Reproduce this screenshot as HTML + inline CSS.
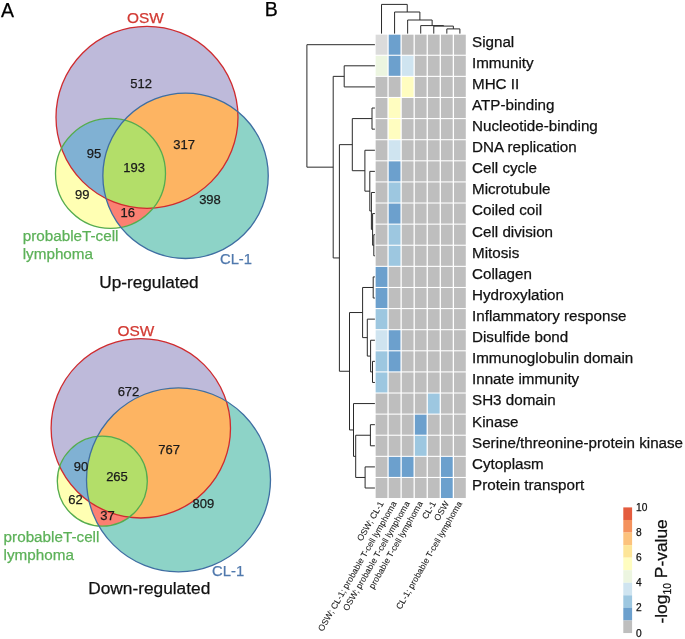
<!DOCTYPE html>
<html><head><meta charset="utf-8"><style>
html,body{margin:0;padding:0;background:#fff;}
svg{display:block;font-family:"Liberation Sans", Arial, sans-serif;}
text{stroke-width:0.25px;}
</style></head><body>
<svg width="685" height="639" viewBox="0 0 685 639">
<rect width="685" height="639" fill="#fff"/>
<text x="1" y="16.6" font-size="19.5" fill="#000" stroke="#000">A</text>
<text x="264.7" y="15.8" font-size="19.5" fill="#000" stroke="#000">B</text>
<clipPath id="uo"><circle cx="147" cy="117.3" r="91"/></clipPath>
<clipPath id="uc"><circle cx="185.55" cy="175.8" r="82.7"/></clipPath>
<circle cx="147" cy="117.3" r="91" fill="#BEBADA"/>
<circle cx="185.55" cy="175.8" r="82.7" fill="#8DD3C7"/>
<circle cx="110.5" cy="173.4" r="55" fill="#FFFFB3"/>
<circle cx="185.55" cy="175.8" r="82.7" fill="#FDB462" clip-path="url(#uo)"/>
<circle cx="110.5" cy="173.4" r="55" fill="#80B1D3" clip-path="url(#uo)"/>
<circle cx="110.5" cy="173.4" r="55" fill="#FB8072" clip-path="url(#uc)"/>
<g clip-path="url(#uo)"><circle cx="110.5" cy="173.4" r="55" fill="#B3DE69" clip-path="url(#uc)"/></g>
<circle cx="147" cy="117.3" r="91" fill="none" stroke="#CF2B2F" stroke-width="1.3"/>
<circle cx="110.5" cy="173.4" r="55" fill="none" stroke="#55AC4F" stroke-width="1.3"/>
<circle cx="185.55" cy="175.8" r="82.7" fill="none" stroke="#3F6EA2" stroke-width="1.3"/>
<text x="145.3" y="23" font-size="15.4" fill="#D23A33" stroke="#D23A33" text-anchor="middle">OSW</text>
<text x="22.7" y="241.1" font-size="15.25" fill="#5CB158" stroke="#5CB158" text-anchor="start">probableT-cell</text>
<text x="22.7" y="259.2" font-size="15.25" fill="#5CB158" stroke="#5CB158" text-anchor="start">lymphoma</text>
<text x="236.0" y="264.1" font-size="14.8" fill="#5079AD" stroke="#5079AD" text-anchor="middle">CL-1</text>
<text x="149.0" y="287.7" font-size="17.2" fill="#111" stroke="#111" text-anchor="middle">Up-regulated</text>
<text x="141.1" y="87.9" font-size="13" fill="#1a1a1a" stroke="#1a1a1a" text-anchor="middle">512</text>
<text x="184.2" y="148.9" font-size="13" fill="#1a1a1a" stroke="#1a1a1a" text-anchor="middle">317</text>
<text x="94" y="158" font-size="13" fill="#1a1a1a" stroke="#1a1a1a" text-anchor="middle">95</text>
<text x="134.1" y="172.4" font-size="13" fill="#1a1a1a" stroke="#1a1a1a" text-anchor="middle">193</text>
<text x="82.3" y="198.9" font-size="13" fill="#1a1a1a" stroke="#1a1a1a" text-anchor="middle">99</text>
<text x="127.7" y="216.8" font-size="13" fill="#1a1a1a" stroke="#1a1a1a" text-anchor="middle">16</text>
<text x="210" y="204.2" font-size="13" fill="#1a1a1a" stroke="#1a1a1a" text-anchor="middle">398</text>
<clipPath id="do"><circle cx="140.8" cy="428.3" r="89.7"/></clipPath>
<clipPath id="dc"><circle cx="178.5" cy="479.8" r="92"/></clipPath>
<circle cx="140.8" cy="428.3" r="89.7" fill="#BEBADA"/>
<circle cx="178.5" cy="479.8" r="92" fill="#8DD3C7"/>
<circle cx="102.3" cy="481.2" r="45" fill="#FFFFB3"/>
<circle cx="178.5" cy="479.8" r="92" fill="#FDB462" clip-path="url(#do)"/>
<circle cx="102.3" cy="481.2" r="45" fill="#80B1D3" clip-path="url(#do)"/>
<circle cx="102.3" cy="481.2" r="45" fill="#FB8072" clip-path="url(#dc)"/>
<g clip-path="url(#do)"><circle cx="102.3" cy="481.2" r="45" fill="#B3DE69" clip-path="url(#dc)"/></g>
<circle cx="140.8" cy="428.3" r="89.7" fill="none" stroke="#CF2B2F" stroke-width="1.3"/>
<circle cx="102.3" cy="481.2" r="45" fill="none" stroke="#55AC4F" stroke-width="1.3"/>
<circle cx="178.5" cy="479.8" r="92" fill="none" stroke="#3F6EA2" stroke-width="1.3"/>
<text x="135.9" y="335.7" font-size="15.4" fill="#D23A33" stroke="#D23A33" text-anchor="middle">OSW</text>
<text x="3.6" y="541.8" font-size="15.25" fill="#5CB158" stroke="#5CB158" text-anchor="start">probableT-cell</text>
<text x="3.6" y="560.2" font-size="15.25" fill="#5CB158" stroke="#5CB158" text-anchor="start">lymphoma</text>
<text x="228.1" y="575.6" font-size="14.8" fill="#5079AD" stroke="#5079AD" text-anchor="middle">CL-1</text>
<text x="149.25" y="594.4" font-size="17.3" fill="#111" stroke="#111" text-anchor="middle">Down-regulated</text>
<text x="128.5" y="396.1" font-size="13" fill="#1a1a1a" stroke="#1a1a1a" text-anchor="middle">672</text>
<text x="169.2" y="453.7" font-size="13" fill="#1a1a1a" stroke="#1a1a1a" text-anchor="middle">767</text>
<text x="81.1" y="471.2" font-size="13" fill="#1a1a1a" stroke="#1a1a1a" text-anchor="middle">90</text>
<text x="117" y="481.3" font-size="13" fill="#1a1a1a" stroke="#1a1a1a" text-anchor="middle">265</text>
<text x="75.5" y="504.2" font-size="13" fill="#1a1a1a" stroke="#1a1a1a" text-anchor="middle">62</text>
<text x="107.5" y="520" font-size="13" fill="#1a1a1a" stroke="#1a1a1a" text-anchor="middle">37</text>
<text x="203.3" y="507.6" font-size="13" fill="#1a1a1a" stroke="#1a1a1a" text-anchor="middle">809</text>
<path d="M446.83 33.60L446.83 28.90 M459.89 33.60L459.89 28.90 M446.83 28.90L459.89 28.90 M433.77 33.60L433.77 26.10 M453.36 28.90L453.36 26.10 M433.77 26.10L453.36 26.10 M420.71 33.60L420.71 25.60 M443.56 26.10L443.56 25.60 M420.71 25.60L443.56 25.60 M407.65 33.60L407.65 20.00 M432.14 25.60L432.14 20.00 M407.65 20.00L432.14 20.00 M394.59 33.60L394.59 12.00 M419.89 20.00L419.89 12.00 M394.59 12.00L419.89 12.00 M381.53 33.60L381.53 4.40 M407.24 12.00L407.24 4.40 M381.53 4.40L407.24 4.40 M374.90 65.81L344.20 65.81 M374.90 86.92L344.20 86.92 M344.20 65.81L344.20 86.92 M374.90 108.03L372.00 108.03 M374.90 129.15L372.00 129.15 M372.00 108.03L372.00 129.15 M374.90 234.69L373.80 234.69 M374.90 255.81L373.80 255.81 M373.80 234.69L373.80 255.81 M374.90 213.59L372.60 213.59 M373.80 245.25L372.60 245.25 M372.60 213.59L372.60 245.25 M374.90 192.47L371.40 192.47 M372.60 229.42L371.40 229.42 M371.40 192.47L371.40 229.42 M374.90 171.37L369.80 171.37 M371.40 210.95L369.80 210.95 M369.80 171.37L369.80 210.95 M374.90 150.25L364.90 150.25 M369.80 191.16L364.90 191.16 M364.90 150.25L364.90 191.16 M372.00 118.59L352.30 118.59 M364.90 170.71L352.30 170.71 M352.30 118.59L352.30 170.71 M374.90 276.91L373.20 276.91 M374.90 298.02L373.20 298.02 M373.20 276.91L373.20 298.02 M374.90 361.35L372.50 361.35 M374.90 382.46L372.50 382.46 M372.50 361.35L372.50 382.46 M374.90 340.24L370.60 340.24 M372.50 371.91L370.60 371.91 M370.60 340.24L370.60 371.91 M374.90 319.13L367.30 319.13 M370.60 356.08L367.30 356.08 M367.30 319.13L367.30 356.08 M373.20 287.47L362.60 287.47 M367.30 337.61L362.60 337.61 M362.60 287.47L362.60 337.61 M374.90 424.68L370.40 424.68 M374.90 445.79L370.40 445.79 M370.40 424.68L370.40 445.79 M374.90 466.90L365.10 466.90 M374.90 488.01L365.10 488.01 M365.10 466.90L365.10 488.01 M370.40 435.24L355.70 435.24 M365.10 477.46L355.70 477.46 M355.70 435.24L355.70 477.46 M374.90 403.57L353.50 403.57 M355.70 456.35L353.50 456.35 M353.50 403.57L353.50 456.35 M362.60 312.54L349.50 312.54 M353.50 429.96L349.50 429.96 M349.50 312.54L349.50 429.96 M352.30 144.65L339.40 144.65 M349.50 371.25L339.40 371.25 M339.40 144.65L339.40 371.25 M344.20 76.37L333.20 76.37 M339.40 257.95L333.20 257.95 M333.20 76.37L333.20 257.95 M374.90 44.70L306.90 44.70 M333.20 167.16L306.90 167.16 M306.90 44.70L306.90 167.16" fill="none" stroke="#2a2a2a" stroke-width="1.0" stroke-linecap="butt"/>
<rect x="375.65" y="34.70" width="11.76" height="20.01" fill="#DBDBDB"/>
<rect x="388.71" y="34.70" width="11.76" height="20.01" fill="#6CA0CD"/>
<rect x="401.77" y="34.70" width="11.76" height="20.01" fill="#BEBEBE"/>
<rect x="414.83" y="34.70" width="11.76" height="20.01" fill="#BEBEBE"/>
<rect x="427.89" y="34.70" width="11.76" height="20.01" fill="#BEBEBE"/>
<rect x="440.95" y="34.70" width="11.76" height="20.01" fill="#BEBEBE"/>
<rect x="454.01" y="34.70" width="11.76" height="20.01" fill="#BEBEBE"/>
<rect x="375.65" y="55.81" width="11.76" height="20.01" fill="#ECF5E0"/>
<rect x="388.71" y="55.81" width="11.76" height="20.01" fill="#6CA0CD"/>
<rect x="401.77" y="55.81" width="11.76" height="20.01" fill="#CFE4F0"/>
<rect x="414.83" y="55.81" width="11.76" height="20.01" fill="#BEBEBE"/>
<rect x="427.89" y="55.81" width="11.76" height="20.01" fill="#BEBEBE"/>
<rect x="440.95" y="55.81" width="11.76" height="20.01" fill="#BEBEBE"/>
<rect x="454.01" y="55.81" width="11.76" height="20.01" fill="#BEBEBE"/>
<rect x="375.65" y="76.92" width="11.76" height="20.01" fill="#BEBEBE"/>
<rect x="388.71" y="76.92" width="11.76" height="20.01" fill="#BEBEBE"/>
<rect x="401.77" y="76.92" width="11.76" height="20.01" fill="#FFFDC0"/>
<rect x="414.83" y="76.92" width="11.76" height="20.01" fill="#BEBEBE"/>
<rect x="427.89" y="76.92" width="11.76" height="20.01" fill="#BEBEBE"/>
<rect x="440.95" y="76.92" width="11.76" height="20.01" fill="#BEBEBE"/>
<rect x="454.01" y="76.92" width="11.76" height="20.01" fill="#BEBEBE"/>
<rect x="375.65" y="98.03" width="11.76" height="20.01" fill="#BEBEBE"/>
<rect x="388.71" y="98.03" width="11.76" height="20.01" fill="#FFFDC0"/>
<rect x="401.77" y="98.03" width="11.76" height="20.01" fill="#BEBEBE"/>
<rect x="414.83" y="98.03" width="11.76" height="20.01" fill="#BEBEBE"/>
<rect x="427.89" y="98.03" width="11.76" height="20.01" fill="#BEBEBE"/>
<rect x="440.95" y="98.03" width="11.76" height="20.01" fill="#BEBEBE"/>
<rect x="454.01" y="98.03" width="11.76" height="20.01" fill="#BEBEBE"/>
<rect x="375.65" y="119.14" width="11.76" height="20.01" fill="#BEBEBE"/>
<rect x="388.71" y="119.14" width="11.76" height="20.01" fill="#FFFDC0"/>
<rect x="401.77" y="119.14" width="11.76" height="20.01" fill="#BEBEBE"/>
<rect x="414.83" y="119.14" width="11.76" height="20.01" fill="#BEBEBE"/>
<rect x="427.89" y="119.14" width="11.76" height="20.01" fill="#BEBEBE"/>
<rect x="440.95" y="119.14" width="11.76" height="20.01" fill="#BEBEBE"/>
<rect x="454.01" y="119.14" width="11.76" height="20.01" fill="#BEBEBE"/>
<rect x="375.65" y="140.25" width="11.76" height="20.01" fill="#BEBEBE"/>
<rect x="388.71" y="140.25" width="11.76" height="20.01" fill="#CFE4F0"/>
<rect x="401.77" y="140.25" width="11.76" height="20.01" fill="#BEBEBE"/>
<rect x="414.83" y="140.25" width="11.76" height="20.01" fill="#BEBEBE"/>
<rect x="427.89" y="140.25" width="11.76" height="20.01" fill="#BEBEBE"/>
<rect x="440.95" y="140.25" width="11.76" height="20.01" fill="#BEBEBE"/>
<rect x="454.01" y="140.25" width="11.76" height="20.01" fill="#BEBEBE"/>
<rect x="375.65" y="161.36" width="11.76" height="20.01" fill="#BEBEBE"/>
<rect x="388.71" y="161.36" width="11.76" height="20.01" fill="#6CA0CD"/>
<rect x="401.77" y="161.36" width="11.76" height="20.01" fill="#BEBEBE"/>
<rect x="414.83" y="161.36" width="11.76" height="20.01" fill="#BEBEBE"/>
<rect x="427.89" y="161.36" width="11.76" height="20.01" fill="#BEBEBE"/>
<rect x="440.95" y="161.36" width="11.76" height="20.01" fill="#BEBEBE"/>
<rect x="454.01" y="161.36" width="11.76" height="20.01" fill="#BEBEBE"/>
<rect x="375.65" y="182.47" width="11.76" height="20.01" fill="#BEBEBE"/>
<rect x="388.71" y="182.47" width="11.76" height="20.01" fill="#9DC7E0"/>
<rect x="401.77" y="182.47" width="11.76" height="20.01" fill="#BEBEBE"/>
<rect x="414.83" y="182.47" width="11.76" height="20.01" fill="#BEBEBE"/>
<rect x="427.89" y="182.47" width="11.76" height="20.01" fill="#BEBEBE"/>
<rect x="440.95" y="182.47" width="11.76" height="20.01" fill="#BEBEBE"/>
<rect x="454.01" y="182.47" width="11.76" height="20.01" fill="#BEBEBE"/>
<rect x="375.65" y="203.58" width="11.76" height="20.01" fill="#BEBEBE"/>
<rect x="388.71" y="203.58" width="11.76" height="20.01" fill="#6CA0CD"/>
<rect x="401.77" y="203.58" width="11.76" height="20.01" fill="#BEBEBE"/>
<rect x="414.83" y="203.58" width="11.76" height="20.01" fill="#BEBEBE"/>
<rect x="427.89" y="203.58" width="11.76" height="20.01" fill="#BEBEBE"/>
<rect x="440.95" y="203.58" width="11.76" height="20.01" fill="#BEBEBE"/>
<rect x="454.01" y="203.58" width="11.76" height="20.01" fill="#BEBEBE"/>
<rect x="375.65" y="224.69" width="11.76" height="20.01" fill="#BEBEBE"/>
<rect x="388.71" y="224.69" width="11.76" height="20.01" fill="#9DC7E0"/>
<rect x="401.77" y="224.69" width="11.76" height="20.01" fill="#BEBEBE"/>
<rect x="414.83" y="224.69" width="11.76" height="20.01" fill="#BEBEBE"/>
<rect x="427.89" y="224.69" width="11.76" height="20.01" fill="#BEBEBE"/>
<rect x="440.95" y="224.69" width="11.76" height="20.01" fill="#BEBEBE"/>
<rect x="454.01" y="224.69" width="11.76" height="20.01" fill="#BEBEBE"/>
<rect x="375.65" y="245.80" width="11.76" height="20.01" fill="#BEBEBE"/>
<rect x="388.71" y="245.80" width="11.76" height="20.01" fill="#9DC7E0"/>
<rect x="401.77" y="245.80" width="11.76" height="20.01" fill="#BEBEBE"/>
<rect x="414.83" y="245.80" width="11.76" height="20.01" fill="#BEBEBE"/>
<rect x="427.89" y="245.80" width="11.76" height="20.01" fill="#BEBEBE"/>
<rect x="440.95" y="245.80" width="11.76" height="20.01" fill="#BEBEBE"/>
<rect x="454.01" y="245.80" width="11.76" height="20.01" fill="#BEBEBE"/>
<rect x="375.65" y="266.91" width="11.76" height="20.01" fill="#6CA0CD"/>
<rect x="388.71" y="266.91" width="11.76" height="20.01" fill="#BEBEBE"/>
<rect x="401.77" y="266.91" width="11.76" height="20.01" fill="#BEBEBE"/>
<rect x="414.83" y="266.91" width="11.76" height="20.01" fill="#BEBEBE"/>
<rect x="427.89" y="266.91" width="11.76" height="20.01" fill="#BEBEBE"/>
<rect x="440.95" y="266.91" width="11.76" height="20.01" fill="#BEBEBE"/>
<rect x="454.01" y="266.91" width="11.76" height="20.01" fill="#BEBEBE"/>
<rect x="375.65" y="288.02" width="11.76" height="20.01" fill="#6CA0CD"/>
<rect x="388.71" y="288.02" width="11.76" height="20.01" fill="#BEBEBE"/>
<rect x="401.77" y="288.02" width="11.76" height="20.01" fill="#BEBEBE"/>
<rect x="414.83" y="288.02" width="11.76" height="20.01" fill="#BEBEBE"/>
<rect x="427.89" y="288.02" width="11.76" height="20.01" fill="#BEBEBE"/>
<rect x="440.95" y="288.02" width="11.76" height="20.01" fill="#BEBEBE"/>
<rect x="454.01" y="288.02" width="11.76" height="20.01" fill="#BEBEBE"/>
<rect x="375.65" y="309.13" width="11.76" height="20.01" fill="#9DC7E0"/>
<rect x="388.71" y="309.13" width="11.76" height="20.01" fill="#BEBEBE"/>
<rect x="401.77" y="309.13" width="11.76" height="20.01" fill="#BEBEBE"/>
<rect x="414.83" y="309.13" width="11.76" height="20.01" fill="#BEBEBE"/>
<rect x="427.89" y="309.13" width="11.76" height="20.01" fill="#BEBEBE"/>
<rect x="440.95" y="309.13" width="11.76" height="20.01" fill="#BEBEBE"/>
<rect x="454.01" y="309.13" width="11.76" height="20.01" fill="#BEBEBE"/>
<rect x="375.65" y="330.24" width="11.76" height="20.01" fill="#CFE4F0"/>
<rect x="388.71" y="330.24" width="11.76" height="20.01" fill="#6CA0CD"/>
<rect x="401.77" y="330.24" width="11.76" height="20.01" fill="#BEBEBE"/>
<rect x="414.83" y="330.24" width="11.76" height="20.01" fill="#BEBEBE"/>
<rect x="427.89" y="330.24" width="11.76" height="20.01" fill="#BEBEBE"/>
<rect x="440.95" y="330.24" width="11.76" height="20.01" fill="#BEBEBE"/>
<rect x="454.01" y="330.24" width="11.76" height="20.01" fill="#BEBEBE"/>
<rect x="375.65" y="351.35" width="11.76" height="20.01" fill="#9DC7E0"/>
<rect x="388.71" y="351.35" width="11.76" height="20.01" fill="#6CA0CD"/>
<rect x="401.77" y="351.35" width="11.76" height="20.01" fill="#BEBEBE"/>
<rect x="414.83" y="351.35" width="11.76" height="20.01" fill="#BEBEBE"/>
<rect x="427.89" y="351.35" width="11.76" height="20.01" fill="#BEBEBE"/>
<rect x="440.95" y="351.35" width="11.76" height="20.01" fill="#BEBEBE"/>
<rect x="454.01" y="351.35" width="11.76" height="20.01" fill="#BEBEBE"/>
<rect x="375.65" y="372.46" width="11.76" height="20.01" fill="#9DC7E0"/>
<rect x="388.71" y="372.46" width="11.76" height="20.01" fill="#BEBEBE"/>
<rect x="401.77" y="372.46" width="11.76" height="20.01" fill="#BEBEBE"/>
<rect x="414.83" y="372.46" width="11.76" height="20.01" fill="#BEBEBE"/>
<rect x="427.89" y="372.46" width="11.76" height="20.01" fill="#BEBEBE"/>
<rect x="440.95" y="372.46" width="11.76" height="20.01" fill="#BEBEBE"/>
<rect x="454.01" y="372.46" width="11.76" height="20.01" fill="#BEBEBE"/>
<rect x="375.65" y="393.57" width="11.76" height="20.01" fill="#BEBEBE"/>
<rect x="388.71" y="393.57" width="11.76" height="20.01" fill="#BEBEBE"/>
<rect x="401.77" y="393.57" width="11.76" height="20.01" fill="#BEBEBE"/>
<rect x="414.83" y="393.57" width="11.76" height="20.01" fill="#BEBEBE"/>
<rect x="427.89" y="393.57" width="11.76" height="20.01" fill="#9DC7E0"/>
<rect x="440.95" y="393.57" width="11.76" height="20.01" fill="#BEBEBE"/>
<rect x="454.01" y="393.57" width="11.76" height="20.01" fill="#BEBEBE"/>
<rect x="375.65" y="414.68" width="11.76" height="20.01" fill="#BEBEBE"/>
<rect x="388.71" y="414.68" width="11.76" height="20.01" fill="#BEBEBE"/>
<rect x="401.77" y="414.68" width="11.76" height="20.01" fill="#BEBEBE"/>
<rect x="414.83" y="414.68" width="11.76" height="20.01" fill="#6CA0CD"/>
<rect x="427.89" y="414.68" width="11.76" height="20.01" fill="#BEBEBE"/>
<rect x="440.95" y="414.68" width="11.76" height="20.01" fill="#BEBEBE"/>
<rect x="454.01" y="414.68" width="11.76" height="20.01" fill="#BEBEBE"/>
<rect x="375.65" y="435.79" width="11.76" height="20.01" fill="#BEBEBE"/>
<rect x="388.71" y="435.79" width="11.76" height="20.01" fill="#BEBEBE"/>
<rect x="401.77" y="435.79" width="11.76" height="20.01" fill="#BEBEBE"/>
<rect x="414.83" y="435.79" width="11.76" height="20.01" fill="#9DC7E0"/>
<rect x="427.89" y="435.79" width="11.76" height="20.01" fill="#BEBEBE"/>
<rect x="440.95" y="435.79" width="11.76" height="20.01" fill="#BEBEBE"/>
<rect x="454.01" y="435.79" width="11.76" height="20.01" fill="#BEBEBE"/>
<rect x="375.65" y="456.90" width="11.76" height="20.01" fill="#BEBEBE"/>
<rect x="388.71" y="456.90" width="11.76" height="20.01" fill="#6CA0CD"/>
<rect x="401.77" y="456.90" width="11.76" height="20.01" fill="#6CA0CD"/>
<rect x="414.83" y="456.90" width="11.76" height="20.01" fill="#BEBEBE"/>
<rect x="427.89" y="456.90" width="11.76" height="20.01" fill="#BEBEBE"/>
<rect x="440.95" y="456.90" width="11.76" height="20.01" fill="#6CA0CD"/>
<rect x="454.01" y="456.90" width="11.76" height="20.01" fill="#BEBEBE"/>
<rect x="375.65" y="478.01" width="11.76" height="20.01" fill="#BEBEBE"/>
<rect x="388.71" y="478.01" width="11.76" height="20.01" fill="#BEBEBE"/>
<rect x="401.77" y="478.01" width="11.76" height="20.01" fill="#BEBEBE"/>
<rect x="414.83" y="478.01" width="11.76" height="20.01" fill="#BEBEBE"/>
<rect x="427.89" y="478.01" width="11.76" height="20.01" fill="#BEBEBE"/>
<rect x="440.95" y="478.01" width="11.76" height="20.01" fill="#6CA0CD"/>
<rect x="454.01" y="478.01" width="11.76" height="20.01" fill="#BEBEBE"/>
<text x="472" y="46.60" font-size="15.2" fill="#111" stroke="#111">Signal</text>
<text x="472" y="67.72" font-size="15.2" fill="#111" stroke="#111">Immunity</text>
<text x="472" y="88.83" font-size="15.2" fill="#111" stroke="#111">MHC II</text>
<text x="472" y="109.94" font-size="15.2" fill="#111" stroke="#111">ATP-binding</text>
<text x="472" y="131.05" font-size="15.2" fill="#111" stroke="#111">Nucleotide-binding</text>
<text x="472" y="152.16" font-size="15.2" fill="#111" stroke="#111">DNA replication</text>
<text x="472" y="173.27" font-size="15.2" fill="#111" stroke="#111">Cell cycle</text>
<text x="472" y="194.38" font-size="15.2" fill="#111" stroke="#111">Microtubule</text>
<text x="472" y="215.49" font-size="15.2" fill="#111" stroke="#111">Coiled coil</text>
<text x="472" y="236.59" font-size="15.2" fill="#111" stroke="#111">Cell division</text>
<text x="472" y="257.70" font-size="15.2" fill="#111" stroke="#111">Mitosis</text>
<text x="472" y="278.81" font-size="15.2" fill="#111" stroke="#111">Collagen</text>
<text x="472" y="299.92" font-size="15.2" fill="#111" stroke="#111">Hydroxylation</text>
<text x="472" y="321.03" font-size="15.2" fill="#111" stroke="#111">Inflammatory response</text>
<text x="472" y="342.14" font-size="15.2" fill="#111" stroke="#111">Disulfide bond</text>
<text x="472" y="363.25" font-size="15.2" fill="#111" stroke="#111">Immunoglobulin domain</text>
<text x="472" y="384.36" font-size="15.2" fill="#111" stroke="#111">Innate immunity</text>
<text x="472" y="405.47" font-size="15.2" fill="#111" stroke="#111">SH3 domain</text>
<text x="472" y="426.58" font-size="15.2" fill="#111" stroke="#111">Kinase</text>
<text x="472" y="447.69" font-size="15.2" fill="#111" stroke="#111">Serine/threonine-protein kinase</text>
<text x="472" y="468.80" font-size="15.2" fill="#111" stroke="#111">Cytoplasm</text>
<text x="472" y="489.91" font-size="15.2" fill="#111" stroke="#111">Protein transport</text>
<g transform="translate(378.53,500.30) rotate(-60)"><text x="0" y="0" font-size="8.7" fill="#222" stroke="#222" style="stroke-width:0.08px" text-anchor="end" dy="0.72em">OSW; CL-1</text></g>
<g transform="translate(391.59,500.30) rotate(-60)"><text x="0" y="0" font-size="8.7" fill="#222" stroke="#222" style="stroke-width:0.08px" text-anchor="end" dy="0.72em">OSW; CL-1; probable T-cell lymphoma</text></g>
<g transform="translate(404.65,500.30) rotate(-60)"><text x="0" y="0" font-size="8.7" fill="#222" stroke="#222" style="stroke-width:0.08px" text-anchor="end" dy="0.72em">OSW; probable T-cell lymphoma</text></g>
<g transform="translate(417.71,500.30) rotate(-60)"><text x="0" y="0" font-size="8.7" fill="#222" stroke="#222" style="stroke-width:0.08px" text-anchor="end" dy="0.72em">probable T-cell lymphoma</text></g>
<g transform="translate(430.77,500.30) rotate(-60)"><text x="0" y="0" font-size="8.7" fill="#222" stroke="#222" style="stroke-width:0.08px" text-anchor="end" dy="0.72em">CL-1</text></g>
<g transform="translate(443.83,500.30) rotate(-60)"><text x="0" y="0" font-size="8.7" fill="#222" stroke="#222" style="stroke-width:0.08px" text-anchor="end" dy="0.72em">OSW</text></g>
<g transform="translate(456.89,500.30) rotate(-60)"><text x="0" y="0" font-size="8.7" fill="#222" stroke="#222" style="stroke-width:0.08px" text-anchor="end" dy="0.72em">CL-1; probable T-cell lymphoma</text></g>
<rect x="623.3" y="507.40" width="8.8" height="12.61" fill="#E45C3E"/>
<rect x="623.3" y="519.96" width="8.8" height="12.61" fill="#F4925D"/>
<rect x="623.3" y="532.52" width="8.8" height="12.61" fill="#FCC27C"/>
<rect x="623.3" y="545.08" width="8.8" height="12.61" fill="#FDE598"/>
<rect x="623.3" y="557.64" width="8.8" height="12.61" fill="#FFFDC0"/>
<rect x="623.3" y="570.20" width="8.8" height="12.61" fill="#ECF5E0"/>
<rect x="623.3" y="582.76" width="8.8" height="12.61" fill="#CFE4F0"/>
<rect x="623.3" y="595.32" width="8.8" height="12.61" fill="#9DC7E0"/>
<rect x="623.3" y="607.88" width="8.8" height="12.61" fill="#6CA0CD"/>
<rect x="623.3" y="620.44" width="8.8" height="12.61" fill="#BEBEBE"/>
<text x="636" y="511.00" font-size="10.2" fill="#111" stroke="#111">10</text>
<text x="636" y="536.12" font-size="10.2" fill="#111" stroke="#111">8</text>
<text x="636" y="561.24" font-size="10.2" fill="#111" stroke="#111">6</text>
<text x="636" y="586.36" font-size="10.2" fill="#111" stroke="#111">4</text>
<text x="636" y="611.48" font-size="10.2" fill="#111" stroke="#111">2</text>
<text x="636" y="636.60" font-size="10.2" fill="#111" stroke="#111">0</text>
<text transform="translate(666.8,623.6) rotate(-90)" font-size="17.4" fill="#111" stroke="#111">-log<tspan font-size="10.4" dy="4.2">10</tspan><tspan dy="-4.2"> P-value</tspan></text>
</svg>
</body></html>
